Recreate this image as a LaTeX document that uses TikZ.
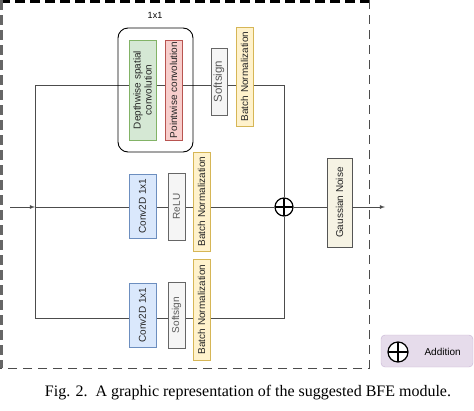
\documentclass[tikz,border=0pt]{standalone}
\usepackage{fontspec}
\setmainfont{Liberation Serif}
\setsansfont{Liberation Sans}
\usetikzlibrary{backgrounds}
\definecolor{cvfill}{HTML}{DAE8FC}\definecolor{cvline}{HTML}{6C8EBF}
\definecolor{dwfill}{HTML}{D5E8D4}\definecolor{dwline}{HTML}{82B366}
\definecolor{pwfill}{HTML}{F8CECC}\definecolor{pwline}{HTML}{B85450}
\definecolor{bnfill}{HTML}{FFF2CC}\definecolor{bnline}{HTML}{D6B656}
\definecolor{acfill}{HTML}{F5F5F5}\definecolor{acline}{HTML}{666666}
\definecolor{gnfill}{HTML}{F6F3E4}\definecolor{gnline}{HTML}{555555}
\definecolor{lgfill}{HTML}{E6DCEB}\definecolor{lgline}{HTML}{C7B3D3}
\begin{document}
\begin{tikzpicture}
	[x=1pt,y=-1pt,>=latex,
	blk/.style={draw,rotate=90,inner sep=1pt,align=center,text=black!85,font=\sffamily\fontsize{10}{11}\selectfont},
	conv/.style={blk,fill=cvfill,draw=cvline},
	dwise/.style={blk,fill=dwfill,draw=dwline},
	pwise/.style={blk,fill=pwfill,draw=pwline},
	bnorm/.style={blk,fill=bnfill,draw=bnline},
	actv/.style={blk,fill=acfill,draw=acline,text=black!65},
	wire/.style={draw=black!70,line width=0.8pt},
	plus/.style={circle,draw,line width=1.2pt,fill=white,minimum size=18pt,inner sep=0pt,
		path picture={\draw[line width=1.8pt] (path picture bounding box.north)--(path picture bounding box.south)
			(path picture bounding box.west)--(path picture bounding box.east);}}]
	\useasboundingbox (0,0) rectangle (474,410);
	% frame of the module
	\draw[line width=2.5pt,dash pattern=on 10pt off 5pt] (0,1.5)--(369,1.5);
	\draw[line width=2.5pt,black!60,dash pattern=on 10pt off 5pt] (1.5,0)--(1.5,368);
	\draw[black!70,line width=0.9pt,dash pattern=on 9pt off 6pt] (369,0)--(369,368)--(0,368);
	% upper branch
	\node[name=one] at (155,15) {\sffamily\fontsize{9}{10}\selectfont 1x1};
	\node[name=grp,draw,line width=0.9pt,rounded corners=10pt,minimum width=75pt,minimum height=124pt] at (155.5,90) {};
	\node[dwise,name=dw,minimum width=100pt,minimum height=27pt] at (142.5,90) {Depthwise spatial\\convolution};
	\node[pwise,name=pw,minimum width=100pt,minimum height=17pt] at (173.5,90) {Pointwise convolution};
	\node[actv,name=ss1,minimum width=67pt,minimum height=16pt,font=\sffamily\fontsize{11.5}{12}\selectfont] at (219,81.5) {Softsign};
	\node[bnorm,name=bn1,minimum width=99pt,minimum height=17pt] at (244.5,76.5) {Batch Normalization};
	% middle branch
	\node[conv,name=cv1,minimum width=64pt,minimum height=27pt] at (142.5,206) {Conv2D 1x1};
	\node[actv,name=relu,minimum width=67pt,minimum height=17pt] at (176.5,206.5) {ReLU};
	\node[bnorm,name=bn2,minimum width=99pt,minimum height=17pt] at (201.5,201.5) {Batch Normalization};
	% lower branch
	\node[conv,name=cv2,minimum width=64pt,minimum height=27pt] at (142.5,315) {Conv2D 1x1};
	\node[actv,name=ss2,minimum width=66pt,minimum height=17pt] at (176.5,315) {Softsign};
	\node[bnorm,name=bn3,minimum width=101pt,minimum height=17pt] at (201.5,309.5) {Batch Normalization};
	% merge and noise
	\node[plus,name=add] at (284,207) {};
	\node[blk,name=gn,fill=gnfill,draw=gnline,minimum width=89pt,minimum height=25pt] at (339.5,202.5) {Gaussian Noise};
	\coordinate (in) at (10,207);
	\coordinate (split) at (35,207);
	\coordinate (top) at (35,85);
	\coordinate (bot) at (35,318);
	\coordinate (out) at (385,207);
	\begin{scope}[on background layer]
		\draw[wire] (top)--(top -| add)--(add);
		\draw[wire] (top)--(bot)--(bot -| add)--(add);
		\draw[wire] (split)--(add)--(add -| gn);
	\end{scope}
	\draw[wire,->] (in)--(split);
	\draw[wire,->] (gn.south |- out)--(out);
	% legend
	\node[name=lg,draw=lgline,fill=lgfill,rounded corners=4pt,minimum width=92pt,minimum height=32pt] at (427,351) {};
	\node[plus,name=lgadd,minimum size=20pt] at (398,352) {};
	\node[name=lgtxt,right=0pt] at (421,352) {\sffamily\fontsize{10}{11}\selectfont Addition};
	% caption
	\node[name=cap,font=\fontsize{16}{18}\selectfont] at (248,393) {Fig. 2.\ \ A graphic representation of the suggested BFE module.};
\end{tikzpicture}
\end{document}
